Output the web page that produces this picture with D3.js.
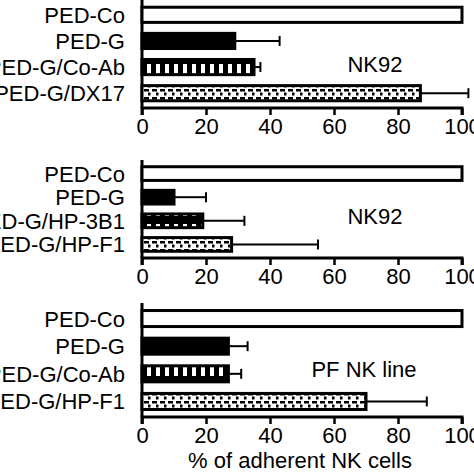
<!DOCTYPE html><html><head><script src="https://cdn.jsdelivr.net/npm/d3@7"></script>
<style>body{margin:0;background:#fff}text{font-family:"Liberation Sans",Arial,sans-serif;fill:#000}</style></head><body>
<svg id="c" width="474" height="474"></svg>
<script>
const labels1=["PED-Co","PED-G","PED-G/Co-Ab","PED-G/DX17"];
const values1=[100,29,35,87];const errors1=[0,14,2,15];
const labels2=["PED-Co","PED-G","PED-G/HP-3B1","PED-G/HP-F1"];
const values2=[100,10,19,28];const errors2=[0,10,13,27];
const labels3=["PED-Co","PED-G","PED-G/Co-Ab","PED-G/HP-F1"];
const values3=[100,27,27,70];const errors3=[0,6,4,19];
const titles=["NK92","NK92","PF NK line"];
const ticks=[0,20,40,60,80,100];
const svg=d3.select("#c");
const defs=svg.append("defs");
const p1=defs.append("pattern").attr("id","vs").attr("width",9).attr("height",20).attr("patternUnits","userSpaceOnUse");
p1.append("rect").attr("width",9).attr("height",20).attr("fill","#000");
p1.append("rect").attr("x",3).attr("y",4).attr("width",4).attr("height",12).attr("fill","#fff");
const p2=defs.append("pattern").attr("id","ck").attr("width",8).attr("height",8).attr("patternUnits","userSpaceOnUse");
p2.append("rect").attr("width",8).attr("height",8).attr("fill","#fff");
p2.append("rect").attr("x",0).attr("y",1).attr("width",5).attr("height",2.5).attr("fill","#000");
p2.append("rect").attr("x",4).attr("y",4.5).attr("width",2.5).attr("height",3).attr("fill","#000");
const fills=["#fff","#000","url(#vs)","url(#ck)"];
const x=d3.scaleLinear().domain([0,100]).range([142,462]);
const panels=[
 {labels:labels1,values:values1,errors:errors1,top:0,axis:108,tx:375,ty:72},
 {labels:labels2,values:values2,errors:errors2,top:160,axis:258,tx:375,ty:224},
 {labels:labels3,values:values3,errors:errors3,top:303,axis:417,tx:364,ty:377}];
panels.forEach((p,i)=>{
 const g=svg.append("g");
 const y=d3.scaleBand().domain(p.labels).range([p.top+2,p.axis-2]).paddingInner(0.42).paddingOuter(0.2);
 g.append("line").attr("x1",x(0)).attr("x2",x(0)).attr("y1",p.top).attr("y2",p.axis).attr("stroke","#000").attr("stroke-width",3);
 const ax=g.append("g").attr("transform",`translate(0,${p.axis})`).call(d3.axisBottom(x).tickValues(ticks).tickSize(7).tickPadding(3));
 ax.select(".domain").attr("stroke-width",3).attr("d",`M${x(0)},7V0H${x(100)}V7`);
 ax.selectAll(".tick line").attr("stroke-width",2.5);
 ax.selectAll("text").attr("font-size",22).style("font-family","Liberation Sans,Arial");
 p.labels.forEach((l,j)=>{
  const yy=y(l),h=y.bandwidth();
  g.append("rect").attr("x",x(0)).attr("y",yy).attr("width",x(p.values[j])-x(0)).attr("height",h).attr("fill",fills[j]).attr("stroke","#000").attr("stroke-width",3);
  if(p.errors[j]>0){
   g.append("line").attr("x1",x(p.values[j])).attr("x2",x(p.values[j]+p.errors[j])).attr("y1",yy+h/2).attr("y2",yy+h/2).attr("stroke","#000").attr("stroke-width",2);
   g.append("line").attr("x1",x(p.values[j]+p.errors[j])).attr("x2",x(p.values[j]+p.errors[j])).attr("y1",yy+h/2-5).attr("y2",yy+h/2+5).attr("stroke","#000").attr("stroke-width",2);
  }
  g.append("text").attr("x",125).attr("y",yy+h/2+8).attr("text-anchor","end").attr("font-size",22).text(l);
 });
 g.append("text").attr("x",p.tx).attr("y",p.ty).attr("text-anchor","middle").attr("font-size",22).text(titles[i]);
});
svg.append("text").attr("x",300).attr("y",468).attr("text-anchor","middle").attr("font-size",22).text("% of adherent NK cells");
</script></body></html>
